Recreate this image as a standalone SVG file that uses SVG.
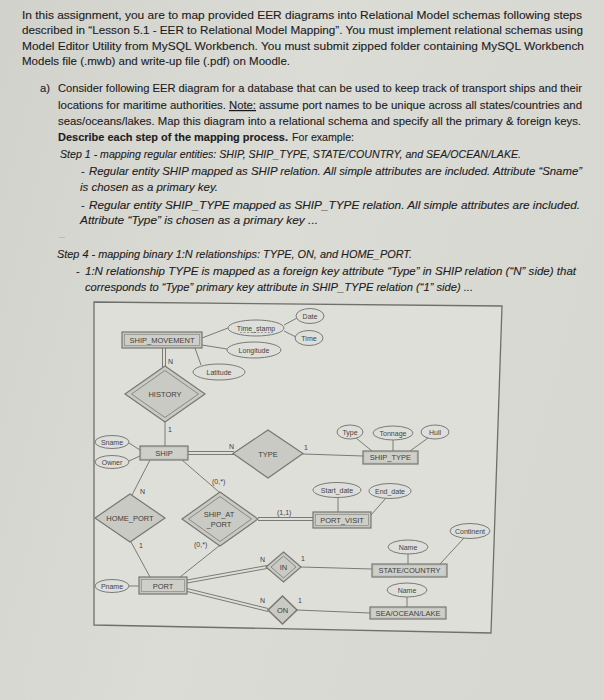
<svg xmlns="http://www.w3.org/2000/svg" width="604" height="700" viewBox="0 0 604 700">
<defs>
<linearGradient id="bg" x1="0" y1="0" x2="1" y2="0.3">
<stop offset="0" stop-color="#d2d2cd"/>
<stop offset="0.5" stop-color="#dcdcd7"/>
<stop offset="1" stop-color="#d8d8d3"/>
</linearGradient>
<style>
.t{font-family:"Liberation Sans",Arial,sans-serif;font-size:11.2px;fill:#1d1d1d;stroke:#1d1d1d;stroke-width:0.12}
.i{font-style:italic}
.b{font-weight:bold}
.ent{fill:#c6c6c1;stroke:#777773;stroke-width:1.2}
.inner{fill:#cfcfca;stroke:#8a8a86;stroke-width:0.7}
.rel{fill:#cacac5;stroke:#777773;stroke-width:1.2}
.att{fill:#dededa;stroke:#7a7a76;stroke-width:1}
.ln{stroke:#7a7a76;stroke-width:1;fill:none}
.lb{font-family:"Liberation Sans",Arial,sans-serif;font-size:7.5px;fill:#3e3e3c;text-anchor:middle}
.al{font-family:"Liberation Sans",Arial,sans-serif;font-size:7px;fill:#454543;text-anchor:middle}
.cd{font-family:"Liberation Sans",Arial,sans-serif;font-size:7px;fill:#3e3e3c}
</style>
</defs>
<rect x="0" y="0" width="604" height="700" fill="url(#bg)"/>

<g id="text">
<text class="t" x="22" y="19" textLength="560" lengthAdjust="spacingAndGlyphs">In this assignment, you are to map provided EER diagrams into Relational Model schemas following steps</text>
<text class="t" x="22" y="34" textLength="561" lengthAdjust="spacingAndGlyphs">described in “Lesson 5.1 - EER to Relational Model Mapping”. You must implement relational schemas using</text>
<text class="t" x="22" y="50" textLength="562" lengthAdjust="spacingAndGlyphs">Model Editor Utility from MySQL Workbench. You must submit zipped folder containing MySQL Workbench</text>
<text class="t" x="22" y="65" textLength="268" lengthAdjust="spacingAndGlyphs">Models file (.mwb) and write-up file (.pdf) on Moodle.</text>

<text class="t" x="40" y="92">a)</text>
<text class="t" x="58" y="92" textLength="524" lengthAdjust="spacingAndGlyphs">Consider following EER diagram for a database that can be used to keep track of transport ships and their</text>
<text class="t" x="58" y="109" textLength="168" lengthAdjust="spacingAndGlyphs">locations for maritime authorities.</text>
<text class="t" x="229" y="109" textLength="27" lengthAdjust="spacingAndGlyphs" text-decoration="underline">Note:</text>
<text class="t" x="259" y="109" textLength="323" lengthAdjust="spacingAndGlyphs">assume port names to be unique across all states/countries and</text>
<text class="t" x="58" y="125" textLength="523" lengthAdjust="spacingAndGlyphs">seas/oceans/lakes. Map this diagram into a relational schema and specify all the primary &amp; foreign keys.</text>
<text class="t b" x="58" y="141" textLength="230" lengthAdjust="spacingAndGlyphs">Describe each step of the mapping process.</text>
<text class="t" x="292" y="141" textLength="62" lengthAdjust="spacingAndGlyphs">For example:</text>
<text class="t i" x="60" y="158" textLength="461" lengthAdjust="spacingAndGlyphs">Step 1 - mapping regular entities: SHIP, SHIP_TYPE, STATE/COUNTRY, and SEA/OCEAN/LAKE.</text>
<text class="t" x="81" y="175">-</text>
<text class="t i" x="89" y="175" textLength="493" lengthAdjust="spacingAndGlyphs">Regular entity SHIP mapped as SHIP relation. All simple attributes are included. Attribute “Sname”</text>
<text class="t i" x="80" y="191" textLength="138" lengthAdjust="spacingAndGlyphs">is chosen as a primary key.</text>
<text class="t" x="81" y="209">-</text>
<text class="t i" x="89" y="209" textLength="491" lengthAdjust="spacingAndGlyphs">Regular entity SHIP_TYPE mapped as SHIP_TYPE relation. All simple attributes are included.</text>
<text class="t i" x="80" y="224" textLength="238" lengthAdjust="spacingAndGlyphs">Attribute “Type” is chosen as a primary key ...</text>

<text class="t" x="59" y="238" style="font-size:7px;fill:#777;stroke:none">...</text>
<text class="t i" x="57" y="258" textLength="355" lengthAdjust="spacingAndGlyphs">Step 4 - mapping binary 1:N relationships: TYPE, ON, and HOME_PORT.</text>
<text class="t" x="76" y="275">-</text>
<text class="t i" x="85" y="275" textLength="491" lengthAdjust="spacingAndGlyphs">1:N relationship TYPE is mapped as a foreign key attribute “Type” in SHIP relation (“N” side) that</text>
<text class="t i" x="85" y="291" textLength="388" lengthAdjust="spacingAndGlyphs">corresponds to “Type” primary key attribute in SHIP_TYPE relation (“1” side) ...</text>
</g>

<polygon points="94,302 502,306 491,633 94,625" fill="#dfdfda" stroke="#6f6f6b" stroke-width="1.3"/>

<g id="connectors">
<line class="ln" x1="202" y1="338" x2="228" y2="328"/>
<line class="ln" x1="284" y1="325" x2="297" y2="318"/>
<line class="ln" x1="284" y1="331" x2="296" y2="337"/>
<line class="ln" x1="202" y1="345" x2="227" y2="349"/>
<line class="ln" x1="195" y1="348" x2="201" y2="365"/>
<line class="ln" x1="162.5" y1="348" x2="162.5" y2="367"/>
<line class="ln" x1="165.5" y1="348" x2="165.5" y2="368"/>
<line class="ln" x1="165" y1="422" x2="165" y2="446"/>
<line class="ln" x1="129" y1="443" x2="140" y2="450"/>
<line class="ln" x1="129" y1="461" x2="140" y2="456"/>
<line class="ln" x1="188" y1="451.5" x2="234" y2="451.5"/>
<line class="ln" x1="188" y1="454.5" x2="234" y2="454.5"/>
<line class="ln" x1="303" y1="454" x2="363" y2="456"/>
<line class="ln" x1="356" y1="438" x2="372" y2="451"/>
<line class="ln" x1="393" y1="440" x2="393" y2="451"/>
<line class="ln" x1="428" y1="438" x2="410" y2="451"/>
<line class="ln" x1="150" y1="460" x2="132" y2="495"/>
<line class="ln" x1="182" y1="460" x2="219" y2="492"/>
<line class="ln" x1="258" y1="517.5" x2="313" y2="517.5"/>
<line class="ln" x1="258" y1="520.5" x2="313" y2="520.5"/>
<line class="ln" x1="338" y1="497.5" x2="338" y2="512"/>
<line class="ln" x1="386" y1="498" x2="371" y2="515"/>
<line class="ln" x1="131" y1="542" x2="150" y2="577"/>
<line class="ln" x1="219" y1="546" x2="180" y2="577"/>
<line class="ln" x1="408" y1="554" x2="408" y2="564"/>
<line class="ln" x1="464" y1="538" x2="440" y2="564"/>
<line class="ln" x1="187" y1="580" x2="267" y2="565.5"/>
<line class="ln" x1="187" y1="583" x2="267" y2="568.5"/>
<line class="ln" x1="301" y1="567" x2="372" y2="569"/>
<line class="ln" x1="129" y1="586" x2="139" y2="586"/>
<line class="ln" x1="187" y1="588.5" x2="268" y2="608.5"/>
<line class="ln" x1="187" y1="591.5" x2="268" y2="611.5"/>
<line class="ln" x1="297" y1="610" x2="370" y2="613"/>
<line class="ln" x1="407" y1="597" x2="407" y2="607"/>
<text class="cd" x="168" y="364">N</text>
<text class="cd" x="168" y="432">1</text>
<text class="cd" x="229" y="449">N</text>
<text class="cd" x="304" y="450">1</text>
<text class="cd" x="140" y="494">N</text>
<text class="cd" x="212" y="484">(0,*)</text>
<text class="cd" x="277" y="515">(1,1)</text>
<text class="cd" x="139" y="548">1</text>
<text class="cd" x="194" y="547">(0,*)</text>
<text class="cd" x="260" y="562">N</text>
<text class="cd" x="301" y="561">1</text>
<text class="cd" x="260" y="603">N</text>
<text class="cd" x="298" y="603">1</text>
</g>

<g id="SHIP_MOVEMENT">
<rect class="ent" x="122" y="332" width="80" height="16"/>
<rect class="inner" x="124.5" y="334.5" width="75" height="11"/>
<text class="lb" x="162" y="343">SHIP_MOVEMENT</text>
</g>
<g id="Time_stamp">
<ellipse class="att" cx="256" cy="328" rx="28" ry="8"/>
<text class="al" x="256" y="330.5">Time_stamp</text>
<line x1="240" y1="332.5" x2="272" y2="332.5" stroke="#666" stroke-width="0.6" stroke-dasharray="2,1.5"/>
</g>
<g id="Date">
<ellipse class="att" cx="310" cy="316" rx="14" ry="7.5"/>
<text class="al" x="310" y="318.5">Date</text>
</g>
<g id="Time">
<ellipse class="att" cx="309" cy="338" rx="14" ry="7.5"/>
<text class="al" x="309" y="340.5">Time</text>
</g>
<g id="Longitude">
<ellipse class="att" cx="254" cy="350" rx="27" ry="8"/>
<text class="al" x="254" y="352.5">Longitude</text>
</g>
<g id="Latitude">
<ellipse class="att" cx="219" cy="372" rx="26" ry="8"/>
<text class="al" x="219" y="374.5">Latitude</text>
</g>
<g id="HISTORY">
<polygon class="rel" points="165,366 205,394 165,422 125,394"/>
<polygon class="rel" points="165,370.5 198.5,394 165,417.5 131.5,394" style="stroke-width:0.8"/>
<text class="lb" x="165" y="397">HISTORY</text>
</g>
<g id="SHIP">
<rect class="ent" x="140" y="446" width="48" height="14"/>
<rect class="inner" x="142" y="448" width="44" height="10" style="stroke:none"/>
<text class="lb" x="164" y="455.5">SHIP</text>
</g>
<g id="Sname">
<ellipse class="att" cx="112" cy="442" rx="17" ry="6.5"/>
<text class="al" x="112" y="444.5">Sname</text>
</g>
<g id="Owner">
<ellipse class="att" cx="112" cy="462" rx="17" ry="6.5"/>
<text class="al" x="112" y="464.5">Owner</text>
</g>
<g id="TYPE">
<polygon class="rel" points="268,430 303,453.5 268,478 233,453.5"/>
<text class="lb" x="268" y="456.5">TYPE</text>
</g>
<g id="SHIP_TYPE">
<rect class="ent" x="363" y="451" width="55" height="13"/>
<rect class="inner" x="365" y="453" width="51" height="9" style="stroke:none"/>
<text class="lb" x="390.5" y="460">SHIP_TYPE</text>
</g>
<g id="Type">
<ellipse class="att" cx="350" cy="432" rx="13" ry="7"/>
<text class="al" x="350" y="434.5">Type</text>
</g>
<g id="Tonnage">
<ellipse class="att" cx="393" cy="433" rx="20" ry="7"/>
<text class="al" x="393" y="435.5">Tonnage</text>
</g>
<g id="Hull">
<ellipse class="att" cx="435" cy="432" rx="14" ry="7"/>
<text class="al" x="435" y="434.5">Hull</text>
</g>
<g id="HOME_PORT">
<polygon class="rel" points="130,494 165,518 130,542 95,518"/>
<text class="lb" x="130" y="521">HOME_PORT</text>
</g>
<g id="SHIP_AT_PORT">
<polygon class="rel" points="220,492 258,519 220,546 182,519"/>
<polygon class="rel" points="220,496.5 251.5,519 220,541.5 188.5,519" style="stroke-width:0.8"/>
<text class="lb" x="219" y="517">SHIP_AT</text>
<text class="lb" x="219" y="527">_PORT</text>
</g>
<g id="PORT_VISIT">
<rect class="ent" x="313" y="512" width="58" height="16"/>
<rect class="inner" x="315.5" y="514.5" width="53" height="11"/>
<text class="lb" x="342" y="523">PORT_VISIT</text>
</g>
<g id="Start_date">
<ellipse class="att" cx="337" cy="490" rx="24" ry="7.5"/>
<text class="al" x="337" y="492.5">Start_date</text>
</g>
<g id="End_date">
<ellipse class="att" cx="390" cy="491" rx="21" ry="7.5"/>
<text class="al" x="390" y="493.5">End_date</text>
</g>
<g id="Continent">
<ellipse class="att" cx="470" cy="531" rx="20" ry="7.5"/>
<text class="al" x="470" y="533.5">Continent</text>
</g>
<g id="STATE_COUNTRY">
<rect class="ent" x="372" y="564" width="75" height="13"/>
<rect class="inner" x="374" y="566" width="71" height="9" style="stroke:none"/>
<text class="lb" x="409.5" y="573">STATE/COUNTRY</text>
</g>
<g id="Name1">
<ellipse class="att" cx="408" cy="547" rx="20" ry="7"/>
<text class="al" x="408" y="549.5">Name</text>
</g>
<g id="IN">
<polygon class="rel" points="283.5,552 301,567 283.5,582 266,567"/>
<polygon class="rel" points="283.5,556 296,567 283.5,578 271,567" style="stroke-width:0.8"/>
<text class="lb" x="283.5" y="569.5">IN</text>
</g>
<g id="PORT">
<rect class="ent" x="139" y="577" width="48" height="17"/>
<rect class="inner" x="141.5" y="579.5" width="43" height="12"/>
<text class="lb" x="163" y="588.5">PORT</text>
</g>
<g id="Pname">
<ellipse class="att" cx="112" cy="586" rx="17" ry="6.5"/>
<text class="al" x="112" y="588.5">Pname</text>
</g>
<g id="ON">
<polygon class="rel" points="282.5,596 297,610 282.5,624 268,610" style="stroke-width:1.5"/>
<text class="lb" x="282.5" y="612.5">ON</text>
</g>
<g id="SEA_OCEAN_LAKE">
<rect class="ent" x="370" y="607" width="76" height="12"/>
<rect class="inner" x="372" y="609" width="72" height="8" style="stroke:none"/>
<text class="lb" x="408" y="615.5">SEA/OCEAN/LAKE</text>
</g>
<g id="Name2">
<ellipse class="att" cx="407" cy="590" rx="20" ry="7"/>
<text class="al" x="407" y="592.5">Name</text>
</g>
</svg>
